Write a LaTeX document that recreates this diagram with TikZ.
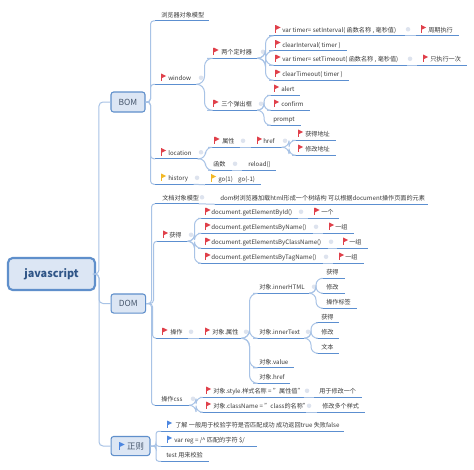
\documentclass[tikz,border=0pt]{standalone}
\usepackage{fontspec}
\setmainfont{Noto Sans CJK SC}
\usetikzlibrary{calc}
\definecolor{ulc}{HTML}{5C8FD0}
\definecolor{lnc}{HTML}{A8C3E6}
\definecolor{boxf}{HTML}{DCE6F4}
\definecolor{boxd}{HTML}{5F8FCB}
\definecolor{txc}{HTML}{3A3A3A}
\definecolor{redf}{HTML}{E0404A}
\definecolor{yelf}{HTML}{F2B824}
\definecolor{bluf}{HTML}{4C86E0}
\definecolor{mkc}{HTML}{DDE3EE}
\newlength\pxu \setlength\pxu{0.75pt}
\tikzset{
  x=0.75pt,y=-0.75pt,
  topic/.style={inner sep=0pt,anchor=base west,text=txc,font=\fontsize{4.6}{6}\selectfont},
  uline/.style={draw=ulc,line width=0.95pt},
  conn/.style={draw=lnc,line width=0.75pt},
  bubble/.style={draw=boxd,fill=boxf,line width=0.8pt,rounded corners=2pt,text=boxtx,font=\fontsize{6.3}{8}\selectfont,inner sep=0pt},
  rootbox/.style={draw=boxd,fill=boxf,line width=1.6pt,rounded corners=3.5pt,text=roottx,font=\fontsize{8.1}{10}\selectfont\bfseries,inner sep=0pt},
  mark dot/.style={circle,fill=mkc,inner sep=0pt,minimum size=3.4pt}
}
\definecolor{boxtx}{HTML}{44546A}
\definecolor{roottx}{HTML}{2F5587}
% name, x0, x1, underline y, text x, text
\newcommand\tp[6]{%
  \pgfmathsetlengthmacro\tpw{(#3-#2)*0.75}%
  \pgfmathsetlengthmacro\tpo{(#5-#2)*0.75}%
  \node[topic] (#1) at (#2,#4-3.5) {\makebox[\tpw][l]{\rule[-3.5\pxu]{0pt}{13\pxu}\hspace*{\tpo}#6}};
  \draw[uline] (#1.south west) -- (#1.south east);
}
% colour, x, underline y
\newcommand\fl[3]{%
  \draw[#1,line width=0.5pt] (#2,#3-10.5) -- (#2,#3-3);
  \fill[#1] (#2,#3-10.5) -- (#2+5.2,#3-8) -- (#2,#3-5.5) -- cycle;
}
% collapse marker over a node's end
\newcommand\mk[1]{\node[mark dot] (mk#1) at ($(#1.south east)+(3.5,-6.5)$) {};}
% radius, dx, from, to
\newcommand\lk[4]{\draw[conn,rounded corners=#1] (#3) -| ($(#4)+(-#2,0)$) -- (#4);}
\newcommand\st[2]{\draw[conn] (#1) -- (#2);}
\begin{document}
\begin{tikzpicture}
\useasboundingbox (0,0) rectangle (474,469);
\fill[white] (0,0) rectangle (474,469);
% main boxes
\node[rootbox,minimum width=65.2pt,minimum height=24pt] (root) at (51.5,274) {javascript};
\node[bubble,minimum width=25.5pt,minimum height=15pt] (bom) at (128,102) {BOM};
\node[bubble,minimum width=25.9pt,minimum height=14.3pt] (dom) at (128.3,303.5) {DOM};
\node[bubble,minimum width=29.2pt,minimum height=14.3pt] (reg) at (130.5,446) {\hspace*{7.5pt}正则};
\fl{bluf}{119.5}{452.5}
% BOM
\tp{bomA}{155}{208}{20.5}{161}{浏览器对象模型}
\tp{win}{155}{197}{84}{168}{window} \fl{redf}{161}{84} \mk{win}
\tp{timers}{207}{259}{58}{221}{两个定时器} \fl{redf}{213.5}{58} \mk{timers}
\tp{popups}{207}{257}{110}{221}{三个弹出框} \fl{redf}{213.5}{110} \mk{popups}
\tp{setI}{269}{404}{35.5}{282}{var timer= setInterval( 函数名称 , 毫秒值)} \fl{redf}{275.5}{35.5} \mk{setI}
\tp{cyc}{416}{458}{35.5}{428}{周期执行} \fl{redf}{421}{35.5}
\tp{clrI}{269}{346}{50.5}{282}{clearInterval( timer )} \fl{redf}{275.5}{50.5}
\tp{setT}{269}{406}{65}{282}{var timer= setTimeout( 函数名称 , 毫秒值)} \fl{redf}{275.5}{65} \mk{setT}
\tp{once}{417}{466}{65}{430}{只执行一次} \fl{redf}{423}{65}
\tp{clrT}{269}{348}{80}{282}{clearTimeout( timer )} \fl{redf}{275.5}{80}
\tp{alert}{267}{299}{95}{281}{alert} \fl{redf}{274}{95}
\tp{confirm}{267}{309}{110}{281}{confirm} \fl{redf}{274}{110}
\tp{prompt}{267}{300}{125}{273}{prompt}
\tp{loc}{155}{197}{158.5}{168}{location} \fl{redf}{161}{158.5} \mk{loc}
\tp{attr}{208}{239}{147}{222}{属性} \fl{redf}{214.5}{147} \mk{attr}
\tp{href}{251}{281}{147}{263}{href} \fl{redf}{257}{147} \mk{href}
\tp{getA}{292}{335}{140}{305}{获得地址} \fl{redf}{298}{140}
\tp{modA}{292}{335}{155}{305}{修改地址} \fl{redf}{298}{155}
\tp{func}{208}{231}{170}{213}{函数} \mk{func}
\tp{reload}{242}{275}{170}{248}{reload()}
\tp{hist}{155}{193}{184}{168}{history} \fl{yelf}{161}{184} \mk{hist}
\tp{go}{205}{260}{184.5}{218}{go(1)\hspace{4pt}go(-1)} \fl{yelf}{211}{184.5}
% DOM
\tp{domA}{155}{198}{203.5}{162}{文档对象模型} \mk{domA}
\tp{domB}{215}{427}{204}{220}{dom树浏览器加载html形成一个树结构 可以根据document操作页面的元素}
\tp{get}{157}{187}{241}{169}{获得} \fl{redf}{163}{241} \mk{get}
\tp{byId}{198}{297}{218}{211}{document.getElementById()} \fl{redf}{205.5}{218} \mk{byId}
\tp{byName}{198}{312}{233}{211}{document.getElementsByName()} \fl{redf}{205.5}{233} \mk{byName}
\tp{byClass}{198}{327}{248}{211}{document.getElementsByClassName()} \fl{redf}{205.5}{248} \mk{byClass}
\tp{byTag}{198}{322}{263}{211}{document.getElementsByTagName()} \fl{redf}{205.5}{263} \mk{byTag}
\tp{oneA}{308}{338}{218}{321}{一个} \fl{redf}{314.5}{218}
\tp{grpA}{323}{353}{233}{335}{一组} \fl{redf}{329}{233}
\tp{grpB}{337}{367}{248}{349}{一组} \fl{redf}{343}{248}
\tp{grpC}{333}{363}{263}{345}{一组} \fl{redf}{339}{263}
\tp{ops}{156}{187}{338}{170}{操作} \fl{redf}{162.5}{338} \mk{ops}
\tp{objp}{199}{242}{338}{212}{对象.属性} \fl{redf}{205}{338} \mk{objp}
\tp{ihtml}{253}{310}{293}{259}{对象.innerHTML} \mk{ihtml}
\tp{ihA}{321}{344}{278}{326}{获得}
\tp{ihB}{321}{344}{293}{326}{修改}
\tp{ihC}{321}{356}{308}{326}{操作标签}
\tp{itext}{253}{304}{338}{259}{对象.innerText} \mk{itext}
\tp{itA}{316}{338}{322.5}{321}{获得}
\tp{itB}{316}{338}{338}{321}{修改}
\tp{itC}{316}{338}{353}{321}{文本}
\tp{oval}{253}{293}{367.5}{259}{对象.value}
\tp{ohref}{253}{289}{383}{259}{对象.href}
\tp{css}{155}{189}{405}{161}{操作css} \mk{css}
\tp{sty}{200}{303}{397}{213}{对象.style.样式名称 = "属性值"} \fl{redf}{206}{397} \mk{sty}
\tp{styN}{314}{361}{397}{319}{用于修改一个}
\tp{cls}{200}{305}{412}{213}{对象.className = "class的名称"} \fl{redf}{206}{412} \mk{cls}
\tp{clsN}{317}{364}{412}{322}{修改多个样式}
% regex
\tp{rgA}{161}{343}{431}{175}{了解 一般用于校验字符是否匹配成功 成功返回true 失败false} \fl{bluf}{167}{431}
\tp{rgB}{161}{256}{446}{174}{var reg = /\^{} 匹配的字符 \$/} \fl{bluf}{167}{446}
\tp{rgC}{161}{208}{461}{166}{test 用来校验}
% connectors
\lk{3pt}{11.5}{root.east}{bom.west}
\lk{3pt}{11.5}{root.east}{dom.west}
\lk{3pt}{11.5}{root.east}{reg.west}
\foreach \c in {bomA,win,loc,hist} {\lk{2.5pt}{4.5}{bom.east}{\c.south west}}
\foreach \c in {timers,popups} {\lk{6pt}{2.5}{win.south east}{\c.south west}}
\foreach \c in {setI,clrI,setT,clrT} {\lk{6pt}{3.5}{timers.south east}{\c.south west}}
\foreach \c in {alert,confirm,prompt} {\lk{5pt}{3}{popups.south east}{\c.south west}}
\st{setI.south east}{cyc.south west}
\st{setT.south east}{once.south west}
\foreach \c in {attr,func} {\lk{5pt}{2.5}{loc.south east}{\c.south west}}
\st{attr.south east}{href.south west}
\foreach \c in {getA,modA} {\lk{5pt}{3}{href.south east}{\c.south west}}
\st{func.south east}{reload.south west}
\st{hist.south east}{go.south west}
\foreach \c in {domA,get,ops,css} {\lk{2.5pt}{3.5}{dom.east}{\c.south west}}
\st{domA.south east}{domB.south west}
\foreach \c in {byId,byName,byClass,byTag} {\lk{5pt}{3.5}{get.south east}{\c.south west}}
\st{byId.south east}{oneA.south west}
\st{byName.south east}{grpA.south west}
\st{byClass.south east}{grpB.south west}
\st{byTag.south east}{grpC.south west}
\st{ops.south east}{objp.south west}
\foreach \c in {ihtml,itext,oval,ohref} {\lk{6pt}{3.5}{objp.south east}{\c.south west}}
\foreach \c in {ihA,ihB,ihC} {\lk{5pt}{5}{ihtml.south east}{\c.south west}}
\foreach \c in {itA,itB,itC} {\lk{5pt}{5}{itext.south east}{\c.south west}}
\foreach \c in {sty,cls} {\lk{5pt}{4}{css.south east}{\c.south west}}
\st{sty.south east}{styN.south west}
\st{cls.south east}{clsN.south west}
\foreach \c in {rgA,rgB,rgC} {\lk{2pt}{5}{reg.east}{\c.south west}}
\end{tikzpicture}
\end{document}
